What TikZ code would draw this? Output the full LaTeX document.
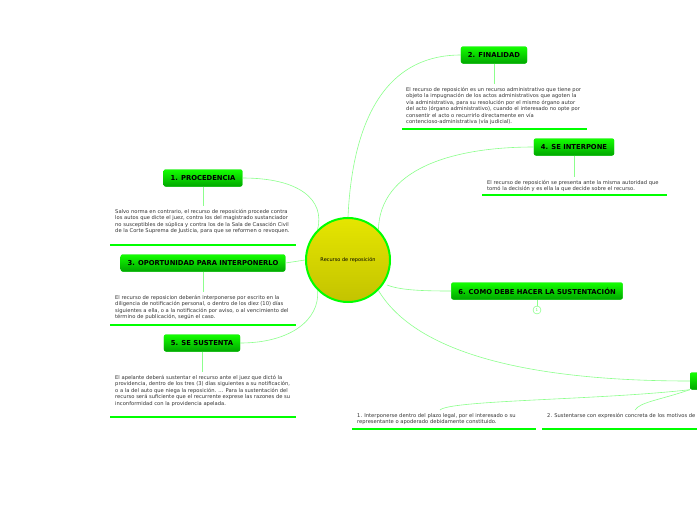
\documentclass[tikz,border=0pt]{standalone}
\usepackage{fontspec}
\setmainfont{DejaVu Sans}
\begin{document}
\begin{tikzpicture}[x=1pt,y=-1pt,
  lbl/.style={rounded corners=2pt,fill=green!85!black,top color=green!90!lime,bottom color=green!65!black,text=black,font=\fontsize{6.8}{7}\selectfont\bfseries,inner xsep=7pt,minimum height=17pt,anchor=center},
  body/.style={font=\fontsize{5.2}{6.5}\selectfont,text=black!80,align=flush left,anchor=north west,inner sep=0pt,text width=#1},
  ul/.style={green,line width=1.6pt},
  con/.style={green!45,line width=0.6pt}]
\useasboundingbox (0,0) rectangle (697,520);
\clip (0,0) rectangle (697,520);
\fill[white] (0,0) rectangle (697,520);
% center
\node[circle,minimum size=84pt,draw=green,line width=2pt,top color=yellow!80!olive,bottom color=yellow!70!olive!90!black,font=\fontsize{5}{6}\selectfont] (c) at (348,260) {Recurso de reposición};
% labels
\node[lbl] (l2) at (494,55) {2. FINALIDAD};
\node[lbl] (l4) at (574,147) {4. SE INTERPONE};
\node[lbl] (l1) at (203,178) {1. PROCEDENCIA};
\node[lbl] (l3) at (203,263) {3. OPORTUNIDAD PARA INTERPONERLO};
\node[lbl] (l5) at (202,343) {5. SE SUSTENTA};
\node[lbl] (l6) at (537,291) {6. COMO DEBE HACER LA SUSTENTACIÓN};
\node[lbl,minimum width=60pt] (l7) at (720,381) {};
% texts
\node[body=176pt] (t2) at (406,87) {El recurso de reposición es un recurso administrativo que tiene por objeto la impugnación de los actos administrativos que agoten la vía administrativa, para su resolución por el mismo órgano autor del acto (órgano administrativo), cuando el interesado no opte por consentir el acto o recurrirlo directamente en vía contencioso-administrativa (vía judicial).};
\draw[ul] (402,129) -- (587,129);
\node[body=176pt] (t4) at (487,180) {El recurso de reposición se presenta ante la misma autoridad que tomó la decisión y es ella la que decide sobre el recurso.};
\draw[ul] (482,195) -- (667,195);
\node[body=176pt] (t1) at (115,209) {Salvo norma en contrario, el recurso de reposición procede contra los autos que dicte el juez, contra los del magistrado sustanciador no susceptibles de súplica y contra los de la Sala de Casación Civil de la Corte Suprema de Justicia, para que se reformen o revoquen.};
\draw[ul] (110,245) -- (296,245);
\node[body=176pt] (t3) at (115,295) {El recurso de reposicion deberán interponerse por escrito en la diligencia de notificación personal, o dentro de los diez (10) días siguientes a ella, o a la notificación por aviso, o al vencimiento del término de publicación, según el caso.};
\draw[ul] (110,325) -- (296,325);
\node[body=176pt] (t5) at (115,375) {El apelante deberá sustentar el recurso ante el juez que dictó la providencia, dentro de los tres (3) días siguientes a su notificación, o a la del auto que niega la reposición. ... Para la sustentación del recurso será suficiente que el recurrente exprese las razones de su inconformidad con la providencia apelada.};
\draw[ul] (110,417) -- (296,417);
\node[body=176pt] (t6) at (357,413) {1. Interponerse dentro del plazo legal, por el interesado o su representante o apoderado debidamente constituido.};
\draw[ul] (352,429) -- (536,429);
\node[body=190pt] (t7) at (547,413) {2. Sustentarse con expresión concreta de los motivos de inconformidad.};
\draw[ul] (542,429) -- (697,429);
\node[circle,draw=green!60,inner sep=0.8pt,minimum size=8pt,font=\fontsize{4}{4}\selectfont,text=green!60] (k) at (537,310) {1};
% connectors
\draw[con] (c.north) .. controls (352,130) and (380,55) .. (l2.west);
\draw[con] (c.north east) .. controls (380,170) and (450,147) .. (l4.west);
\draw[con] (c.north west) .. controls (325,200) and (300,178) .. (l1.east);
\draw[con] (c.west) -- (l3.east);
\draw[con] (c.south west) .. controls (320,320) and (290,343) .. (l5.east);
\draw[con] (c.east) ++(-4,25) .. controls (400,290) and (420,291) .. (l6.west);
\draw[con] (c.south east) .. controls (420,360) and (550,381) .. (l7.west);
\draw[con] (l7.south west) .. controls (600,400) and (450,400) .. (440,410);
\draw[con] (l7.south west) .. controls (660,400) and (640,402) .. (635,410);
\draw[con] (l2.south) -- (494,84);
\draw[con] (l4.south) -- (574,177);
\draw[con] (l1.south) -- (203,206);
\draw[con] (l3.south) -- (203,292);
\draw[con] (l5.south) -- (202,372);
\draw[con] (l6.south) -- (k.north);
\end{tikzpicture}
\end{document}
